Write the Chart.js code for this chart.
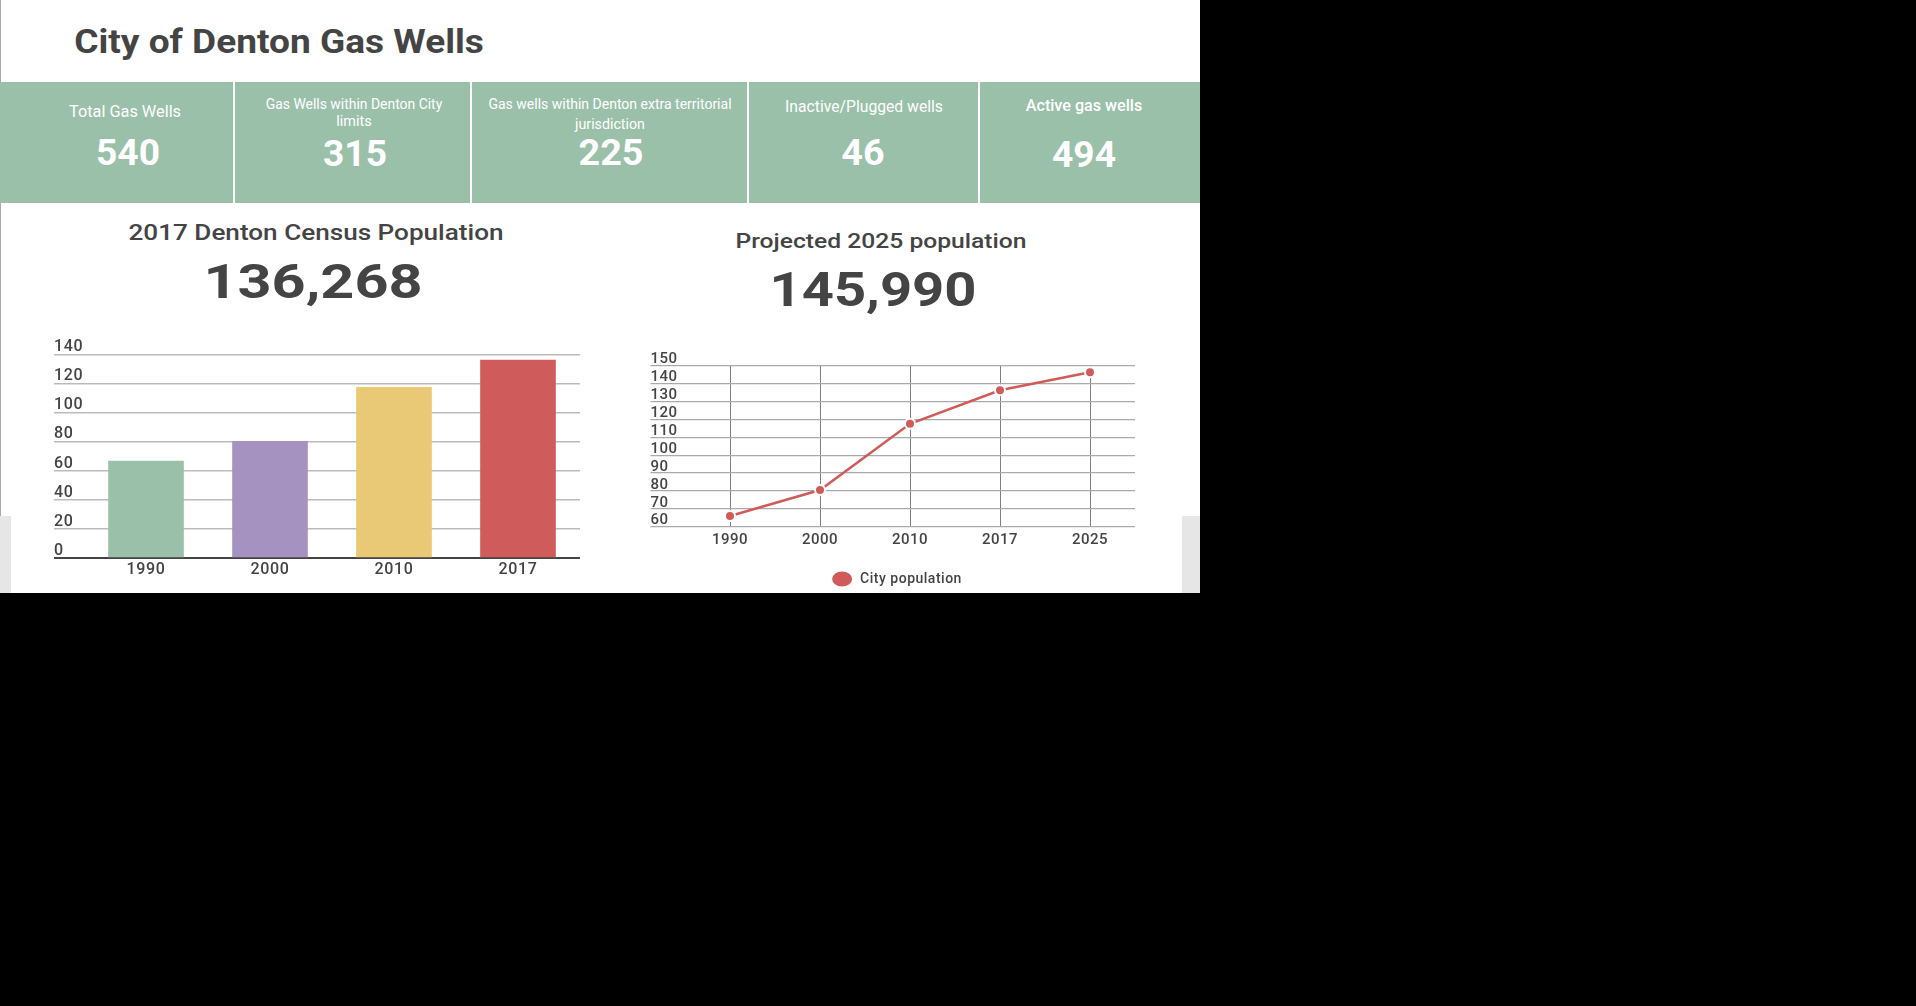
<!DOCTYPE html>
<html>
<head>
    <meta charset="UTF-8">
    <script src="https://cdn.jsdelivr.net/npm/chart.js@4"></script>
    <style>
        html, body {
            margin: 0;
            background: #000;
            overflow: hidden;
            font-family: Roboto, sans-serif;
        }
        #page {
            position: absolute;
            left: 0;
            top: 0;
            width: 1200px;
            height: 593px;
            background: #fff;
            overflow: hidden;
        }
        #edge { position: absolute; left: 0; top: 0; width: 1px; height: 516px; background: #aaa; }
        .side { position: absolute; top: 516px; height: 77px; background: #e6e6e6; }
        #band { position: absolute; left: 0; top: 82px; width: 1200px; height: 120.5px; background: #9ac0a9; }
        .divider { position: absolute; top: 82px; width: 2px; height: 120.5px; background: #fff; }
        .t {
            position: absolute;
            white-space: nowrap;
            line-height: 1;
            color: #444;
            transform: translate(-50%, -50%);
        }
        .k { color: #fff; font-weight: 400; }
        .n { color: #fff; font-weight: 700; font-size: 36px; }
        .h { font-weight: 500; }
        .b { font-weight: 700; font-size: 48px; }
        canvas { position: absolute; top: 330px; }
    </style>
</head>
<body>
<div id="page">
    <div id="edge"></div>
    <div class="side" style="left:0;width:11px"></div>
    <div class="side" style="left:1182px;width:18px"></div>

    <div class="t" data-w="410" style="left:279px;top:41px;font-size:33px;font-weight:700">City of Denton Gas Wells</div>

    <div id="band"></div>
    <div class="divider" style="left:233px"></div>
    <div class="divider" style="left:470px"></div>
    <div class="divider" style="left:747px"></div>
    <div class="divider" style="left:978px"></div>

    <div class="t k" data-w="112" style="left:125px;top:111.5px;font-size:16px">Total Gas Wells</div>
    <div class="t n" data-w="64" style="left:127.5px;top:153px">540</div>

    <div class="t k" data-w="177" style="left:354px;top:104px;font-size:14px">Gas Wells within Denton City</div>
    <div class="t k" data-w="35" style="left:354px;top:121px;font-size:14px">limits</div>
    <div class="t n" data-w="64" style="left:355px;top:154px">315</div>

    <div class="t k" data-w="243" style="left:610px;top:104px;font-size:14px">Gas wells within Denton extra territorial</div>
    <div class="t k" data-w="70" style="left:610px;top:124px;font-size:14px">jurisdiction</div>
    <div class="t n" data-w="65" style="left:611px;top:152.5px">225</div>

    <div class="t k" data-w="158" style="left:864px;top:107px;font-size:16px">Inactive/Plugged wells</div>
    <div class="t n" data-w="43" style="left:863px;top:153px">46</div>

    <div class="t k" data-w="117" style="left:1084px;top:106px;font-size:16px;font-weight:500">Active gas wells</div>
    <div class="t n" data-w="64" style="left:1084px;top:154.5px">494</div>

    <div class="t h" data-w="375" style="left:316px;top:233px;font-size:22px">2017 Denton Census Population</div>
    <div class="t b" data-w="219" style="left:313px;top:281.5px">136,268</div>

    <div class="t h" data-w="291" style="left:881px;top:241px;font-size:21px">Projected 2025 population</div>
    <div class="t b" data-w="207" style="left:873px;top:290px">145,990</div>

    <canvas id="barChart" width="546" height="263" style="left:44px"></canvas>
    <canvas id="lineChart" width="506" height="266" style="left:640px"></canvas>
</div>

<script>
const barYears = ['1990', '2000', '2010', '2017'];
const barValues = [67, 80.5, 117.5, 136.3];
const barColors = ['#9ac0a9', '#a692c0', '#e9c975', '#cf5c5a'];

const lineYears = ['1990', '2000', '2010', '2017', '2025'];
const lineValues = [66, 80.5, 117.5, 136.3, 146.3];
const lineName = 'City population';

const red = '#cf5c5a';
const tickGrey = '#444';

// stretch the text to the width it has in the picture
document.querySelectorAll('.t').forEach(function (el) {
    const k = el.dataset.w / el.offsetWidth;
    el.style.transform = 'translate(-50%, -50%) scaleX(' + k + ')';
});

// tick labels are a little wider than plain Roboto
const spacedText = {
    id: 'spacedText',
    beforeDraw: function (chart, args, opts) {
        chart.ctx.letterSpacing = opts.spacing;
    }
};

new Chart(document.getElementById('barChart'), {
    type: 'bar',
    plugins: [spacedText],
    data: {
        labels: barYears,
        datasets: [{
            data: barValues,
            backgroundColor: barColors,
            categoryPercentage: 1,
            barPercentage: 0.61
        }]
    },
    options: {
        responsive: false,
        animation: false,
        layout: { padding: { left: 10, right: 10, top: 24.3, bottom: 0 } },
        plugins: {
            legend: { display: false },
            tooltip: { enabled: false },
            spacedText: { spacing: '0.7px' }
        },
        scales: {
            x: {
                afterFit: function (s) { s.height = 34.7; },
                border: { display: false },
                grid: { display: false, drawTicks: false },
                ticks: { color: tickGrey, font: { family: 'Roboto', size: 16, weight: '500' }, padding: 2.5 }
            },
            y: {
                min: 0,
                max: 140,
                afterFit: function (s) { s.width = 30; },
                border: { display: false },
                grid: {
                    tickLength: 30,
                    color: function (c) { return c.tick.value === 0 ? '#444' : '#bbb'; },
                    lineWidth: function (c) { return c.tick.value === 0 ? 2 : 1.5; }
                },
                ticks: {
                    stepSize: 20,
                    autoSkip: false,
                    color: tickGrey,
                    crossAlign: 'far',
                    labelOffset: -7.3,
                    padding: 0,
                    font: { family: 'Roboto', size: 16, weight: '500' }
                }
            }
        }
    }
});

new Chart(document.getElementById('lineChart'), {
    type: 'line',
    plugins: [spacedText],
    data: {
        labels: lineYears,
        datasets: [{
            label: lineName,
            data: lineValues,
            borderColor: red,
            backgroundColor: red,
            borderWidth: 2.5,
            tension: 0,
            pointStyle: 'circle',
            pointRadius: 5,
            pointBackgroundColor: red,
            pointBorderColor: '#fff',
            pointBorderWidth: 2
        }]
    },
    options: {
        responsive: false,
        animation: false,
        layout: { padding: { left: 10.5, right: 11, top: 35.7, bottom: 0 } },
        plugins: {
            tooltip: { enabled: false },
            spacedText: { spacing: '0.5px' },
            legend: {
                position: 'bottom',
                labels: {
                    usePointStyle: true,
                    pointStyleWidth: 22,
                    boxHeight: 12,
                    padding: 5,
                    color: tickGrey,
                    font: { family: 'Roboto', size: 14, weight: '500' }
                }
            }
        },
        scales: {
            x: {
                offset: true,
                afterFit: function (s) { s.height = 40.3; },
                border: { display: false },
                grid: { color: '#808080', lineWidth: 1, drawTicks: false },
                ticks: { color: tickGrey, font: { family: 'Roboto', size: 15, weight: '500' }, padding: 4.5 }
            },
            y: {
                min: 60,
                max: 150,
                afterFit: function (s) { s.width = 34.5; },
                border: { display: false },
                grid: { tickLength: 34.5, color: '#aaa', lineWidth: 1.2 },
                ticks: {
                    stepSize: 10,
                    autoSkip: false,
                    color: tickGrey,
                    crossAlign: 'far',
                    labelOffset: -6,
                    padding: 0,
                    font: { family: 'Roboto', size: 15, weight: '500' }
                }
            }
        }
    }
});
</script>
</body>
</html>
